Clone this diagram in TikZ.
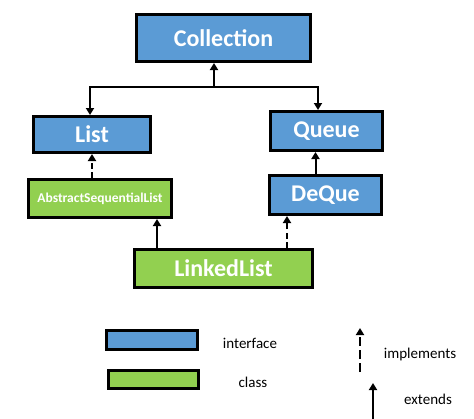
\documentclass[tikz,border=0pt]{standalone}
\usepackage{fontspec}
\setmainfont{Carlito}
\usetikzlibrary{arrows.meta}
\definecolor{ifaceblue}{HTML}{5B9BD5}
\definecolor{classgreen}{HTML}{92D050}

\begin{document}
\begin{tikzpicture}[x=1pt,y=-1pt,
		iface/.style={draw=black, line width=3pt, fill=ifaceblue, text=white, font=\bfseries\fontsize{24}{28}\selectfont, inner sep=0pt},
		cls/.style={draw=black, line width=3pt, fill=classgreen, text=white, font=\bfseries\fontsize{24}{28}\selectfont, inner sep=0pt},
		ext/.style={line width=2pt, -{Triangle[length=7pt,width=8pt]}},
		impl/.style={line width=2.8pt, dash pattern=on 6pt off 3.5pt, -{Triangle[length=7pt,width=8pt]}},
		legtext/.style={font=\fontsize{15}{18}\selectfont, text=black}]
			\fill[white] (0,0) rectangle (474,418);
			\useasboundingbox (0,0) rectangle (474,418);

			\node[iface, minimum width=174pt, minimum height=47pt] (collection) at (223.5,38) {Collection};
			\node[iface, minimum width=117pt, minimum height=36pt] (list) at (92,134.5) {List};
			\node[iface, minimum width=112pt, minimum height=39pt] (queue) at (326.5,131) {Queue};
			\node[cls, minimum width=143pt, minimum height=38pt, font=\bfseries\fontsize{13.5}{16}\selectfont] (asl) at (100,198.5) {AbstractSequentialList};
			\node[iface, minimum width=112pt, minimum height=39pt] (deque) at (325.5,195) {DeQue};
			\node[cls, minimum width=178pt, minimum height=38pt] (linkedlist) at (223.5,268.5) {LinkedList};

			\coordinate (fork) at (214,87);
			\draw[ext] (fork) -- (fork |- collection.south);
			\draw[ext] (fork) -| ([xshift=-2]list.north);
			\draw[ext] (fork) -| ([xshift=-8.5]queue.north);
			\draw[impl] (asl.north -| list.south) -- (list.south);
			\draw[ext] ([xshift=-10]deque.north) -- ([xshift=-10]deque.north |- queue.south);
			\draw[ext] ([xshift=-66.5]linkedlist.north) -- ([xshift=-66.5]linkedlist.north |- asl.south);
			\draw[impl] ([xshift=63.5]linkedlist.north) -- ([xshift=63.5]linkedlist.north |- deque.south);

			% legend
			\node[iface, line width=2.5pt, minimum width=91pt, minimum height=19pt] (legiface) at (152,340) {};
			\node[cls, line width=2.5pt, minimum width=90pt, minimum height=18pt] (legcls) at (153.5,379.5) {};
			\node[legtext] (ifacetext) at (250,343) {interface};
			\node[legtext] (clstext) at (253,382) {class};
			\coordinate (implfrom) at (360,372);
			\coordinate (implto) at (360,328);
			\draw[impl, dash pattern=on 9pt off 4pt] (implfrom) -- (implto);
			\node[legtext] (impltext) at (420,354) {implements};
			\coordinate (extfrom) at (373,420);
			\coordinate (extto) at (373,383);
			\draw[ext] (extfrom) -- (extto);
			\node[legtext] (exttext) at (428,399) {extends};
		\end{tikzpicture}
\end{document}
